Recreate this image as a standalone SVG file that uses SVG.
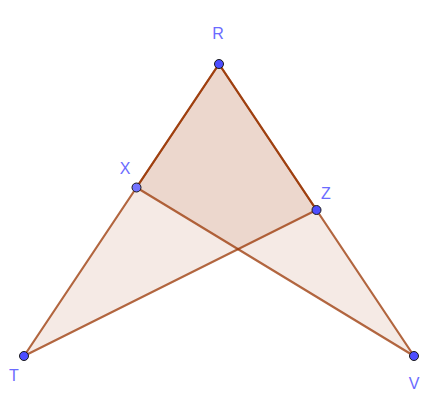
<svg xmlns="http://www.w3.org/2000/svg" width="441" height="404" viewBox="0 0 441 404">
<style>
.tri{fill:rgb(153,51,0);fill-opacity:0.1;stroke:rgb(153,51,0);stroke-opacity:0.74;stroke-width:2.2;stroke-linejoin:round}
.pt{fill:#4d4dff;stroke:#1a1a1a;stroke-width:1}
.pt2{fill:#7373ff;stroke:#1a1a1a;stroke-width:1}
.lbl{font-family:"Liberation Sans",Arial,sans-serif;font-size:16px;fill:#6b6bff;text-anchor:middle}
</style>
<rect width="441" height="404" fill="#ffffff"/>
<g id="connectors">
<polygon class="tri" points="219,64 24,356 316.5,210"/>
<polygon class="tri" points="219,64 136.5,187.5 414,356"/>
</g>
<g id="R"><circle class="pt" cx="219" cy="64" r="4.5"/><text class="lbl" x="218" y="39">R</text></g>
<g id="X"><circle class="pt2" cx="136.5" cy="187.5" r="4.5"/><text class="lbl" x="125" y="174">X</text></g>
<g id="Z"><circle class="pt" cx="316.5" cy="210" r="4.5"/><text class="lbl" x="326" y="199">Z</text></g>
<g id="T"><circle class="pt" cx="24" cy="356" r="4.5"/><text class="lbl" x="14" y="381">T</text></g>
<g id="V"><circle class="pt" cx="414" cy="356" r="4.5"/><text class="lbl" x="414" y="389">V</text></g>
</svg>
